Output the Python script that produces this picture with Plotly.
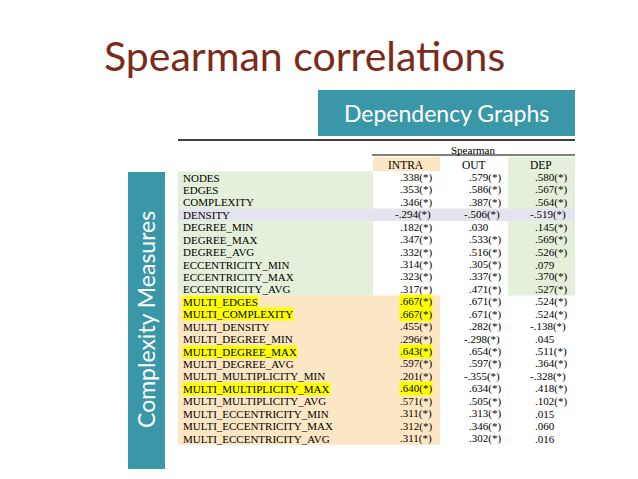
import plotly.graph_objects as go

measures = ["NODES","EDGES","COMPLEXITY","DENSITY","DEGREE_MIN","DEGREE_MAX","DEGREE_AVG",
            "ECCENTRICITY_MIN","ECCENTRICITY_MAX","ECCENTRICITY_AVG",
            "MULTI_EDGES","MULTI_COMPLEXITY","MULTI_DENSITY","MULTI_DEGREE_MIN","MULTI_DEGREE_MAX",
            "MULTI_DEGREE_AVG","MULTI_MULTIPLICITY_MIN","MULTI_MULTIPLICITY_MAX","MULTI_MULTIPLICITY_AVG",
            "MULTI_ECCENTRICITY_MIN","MULTI_ECCENTRICITY_MAX","MULTI_ECCENTRICITY_AVG"]
intra = [".338(*)",".353(*)",".346(*)","-.294(*)",".182(*)",".347(*)",".332(*)",".314(*)",".323(*)",".317(*)",
         ".667(*)",".667(*)",".455(*)",".296(*)",".643(*)",".597(*)",".201(*)",".640(*)",".571(*)",".311(*)",".312(*)",".311(*)"]
out = [".579(*)",".586(*)",".387(*)","-.506(*)",".030",".533(*)",".516(*)",".305(*)",".337(*)",".471(*)",
       ".671(*)",".671(*)",".282(*)","-.298(*)",".654(*)",".597(*)","-.355(*)",".634(*)",".505(*)",".313(*)",".346(*)",".302(*)"]
dep = [".580(*)",".567(*)",".564(*)","-.519(*)",".145(*)",".569(*)",".526(*)",".079",".370(*)",".527(*)",
       ".524(*)",".524(*)","-.138(*)",".045",".511(*)",".364(*)","-.328(*)",".418(*)",".102(*)",".015",".060",".016"]
highlight = ["MULTI_EDGES","MULTI_COMPLEXITY","MULTI_DEGREE_MAX","MULTI_MULTIPLICITY_MAX"]
columns = ["INTRA","OUT","DEP"]

fig = go.Figure(go.Scatter(x=[100], y=[100], mode="markers", marker=dict(opacity=0), hoverinfo="skip"))

F = "Liberation Serif"
r0, h = 177.5, 12.43
n = len(measures)
shapes, ann = [], []
def rect(x0,y0,x1,y1,c):
    shapes.append(dict(type="rect",x0=x0,x1=x1,y0=y0,y1=y1,fillcolor=c,line=dict(width=0),layer="below"))
def line(x0,y0,x1,y1,w=1):
    shapes.append(dict(type="line",x0=x0,x1=x1,y0=y0,y1=y1,line=dict(color="black",width=w)))

green, orange, lav = "#e4f0d9", "#fde6c3", "#e4e4ee"
top = r0 - h/2
split = r0 + 9.5*h
bottom = r0 + (n-0.5)*h
rect(178, top, 373, split, green)
rect(508, top, 575, split, green)
rect(178, split, 440, bottom, orange)
rect(178, r0+2.5*h, 575, r0+3.5*h, lav)
rect(373, 157, 440, 171, orange)
rect(508, 157, 575, 171, green)
line(178, 140, 575, 140, 1.5)
line(372, 155, 575, 155, 1)
rect(318, 90, 575, 136, "#3a97a8")
rect(128, 172, 165, 469, "#3a97a8")

ann.append(dict(x=102, y=55, text="Spearman correlations", showarrow=False, xanchor="left",
                font=dict(family="Lato", size=41, color="#7b2b19")))
ann.append(dict(x=446, y=113, text="Dependency Graphs", showarrow=False,
                font=dict(family="Lato", size=23, color="white")))
ann.append(dict(x=146, y=320, text="Complexity Measures", showarrow=False, textangle=-90,
                font=dict(family="Lato", size=23, color="white")))
ann.append(dict(x=473, y=150, text="Spearman", showarrow=False, font=dict(family=F, size=11, color="black")))
for c, x in zip(columns, [406, 474, 541]):
    ann.append(dict(x=x, y=165, text=c, showarrow=False, font=dict(family=F, size=11.5, color="black")))

for i, m in enumerate(measures):
    y = r0 + i*h
    hl = m in highlight
    ann.append(dict(x=182, y=y, text=m, showarrow=False, xanchor="left",
                    font=dict(family=F, size=11, color="black"),
                    bgcolor="#ffff00" if hl else None, borderpad=0))
    for vals, xd, hcol in [(intra, 399, hl), (out, 468, False), (dep, 534, False)]:
        v = vals[i]
        ann.append(dict(x=xd, y=y, text=v, showarrow=False, xanchor="left",
                        xshift=-5 if v.startswith("-") else 0,
                        font=dict(family=F, size=11, color="black"),
                        bgcolor="#ffff00" if hcol else None, borderpad=0))

# page body has an 8px margin; offset axis ranges so coordinates map to window pixels
fig.update_layout(width=638, height=479, margin=dict(l=0,r=0,t=0,b=0),
                  paper_bgcolor="white", plot_bgcolor="white", showlegend=False,
                  shapes=shapes, annotations=ann,
                  xaxis=dict(range=[8,646], visible=False, fixedrange=True),
                  yaxis=dict(range=[487,8], visible=False, fixedrange=True))
fig.write_html("out.html")
